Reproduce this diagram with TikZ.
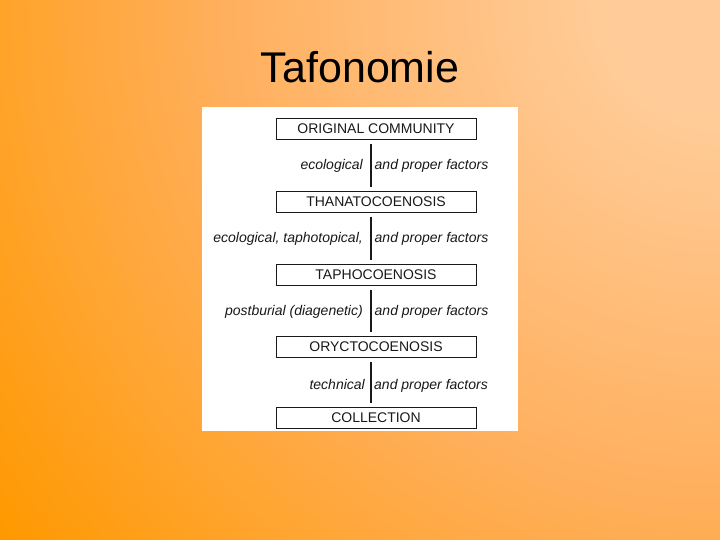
\documentclass[tikz,border=0pt]{standalone}
\usepackage{fontspec}
\setmainfont{Liberation Sans}
\definecolor{peach}{RGB}{255,204,153}
\definecolor{midpeach}{RGB}{255,175,92}
\definecolor{bgorange}{RGB}{255,153,0}
\definecolor{inkc}{RGB}{25,25,25}
\pgfdeclareradialshading{bgshade}{\pgfpoint{0bp}{0bp}}{color(0bp)=(peach); color(2bp)=(peach); color(9bp)=(midpeach); color(16bp)=(bgorange); color(50bp)=(bgorange)}
\tikzset{
  stagebox/.style={draw=inkc, line width=0.8pt, minimum width=200pt, minimum height=21pt,
    inner sep=0pt, text=inkc, font=\fontsize{14}{16}\selectfont},
  flowline/.style={draw=inkc, line width=1.4pt},
  leftlabel/.style={anchor=base east, inner sep=0pt, text=inkc, font=\fontsize{14}{16}\selectfont\itshape},
  rightlabel/.style={anchor=base west, inner sep=0pt, text=inkc, font=\fontsize{14}{16}\selectfont\itshape},
}
\begin{document}
\begin{tikzpicture}[x=1pt,y=-1pt]
\useasboundingbox (0,0) rectangle (720,540);
\begin{scope}
  \clip (0,0) rectangle (720,540);
  \shade[shading=bgshade] (720,0) circle (1400pt);
\end{scope}
\node[anchor=base, inner sep=0pt, font=\fontsize{43}{50}\selectfont] (title) at (360,83) {Tafonomie};
\node[fill=white, minimum width=316pt, minimum height=324pt, inner sep=0pt, anchor=north west] (panel) at (202,107) {};

\node[stagebox] (b1) at (376,128.5) {ORIGINAL COMMUNITY};
\node[stagebox] (b2) at (376,201.5) {THANATOCOENOSIS};
\node[stagebox] (b3) at (376,274.5) {TAPHOCOENOSIS};
\node[stagebox] (b4) at (376,346.5) {ORYCTOCOENOSIS};
\node[stagebox] (b5) at (376,418) {COLLECTION};

\draw[flowline] ([xshift=-5pt,yshift=-5pt]b1.south) -- ([xshift=-5pt,yshift=4pt]b2.north);
\draw[flowline] ([xshift=-5pt,yshift=-5pt]b2.south) -- ([xshift=-5pt,yshift=4pt]b3.north);
\draw[flowline] ([xshift=-5pt,yshift=-5pt]b3.south) -- ([xshift=-5pt,yshift=4pt]b4.north);
\draw[flowline] ([xshift=-5pt,yshift=-5pt]b4.south) -- ([xshift=-5pt,yshift=4pt]b5.north);

\node[leftlabel] (l1) at (363,170) {ecological};
\node[rightlabel] (r1) at (374.5,170) {and proper factors};
\node[leftlabel] (l2) at (363,243) {ecological, taphotopical,};
\node[rightlabel] (r2) at (374.5,243) {and proper factors};
\node[leftlabel] (l3) at (363,315.5) {postburial (diagenetic)};
\node[rightlabel] (r3) at (374.5,315.5) {and proper factors};
\node[leftlabel] (l4) at (365,389) {technical};
\node[rightlabel] (r4) at (374,389) {and proper factors};
\end{tikzpicture}
\end{document}
